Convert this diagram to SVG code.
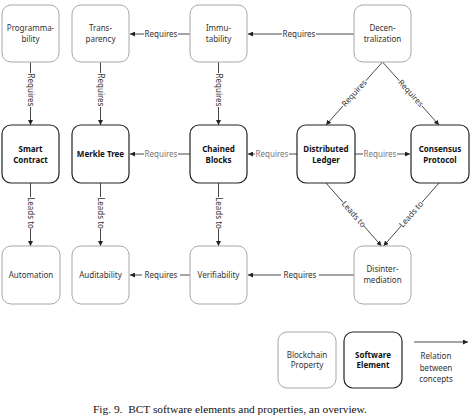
<svg xmlns="http://www.w3.org/2000/svg" width="474" height="420" viewBox="0 0 474 420">
<defs>
<marker id="ah" viewBox="0 0 6 6" refX="6" refY="3" markerWidth="5" markerHeight="5" orient="auto" markerUnits="userSpaceOnUse">
<path d="M0,0 L6,3 L0,6 z" fill="#222"/>
</marker>
<style>
.prop{fill:#fff;stroke:#a8a8a8;stroke-width:1}
.soft{fill:#fff;stroke:#222;stroke-width:1.2}
.nt{font-family:"Noto Sans","Liberation Sans",sans-serif;font-size:8px;fill:#333;text-anchor:middle}
.bt{font-family:"Noto Sans","Liberation Sans",sans-serif;font-size:8px;font-weight:bold;fill:#111;text-anchor:middle}
.ln{stroke:#333;stroke-width:0.9;fill:none;marker-end:url(#ah)}
.lb{font-family:"Noto Sans","Liberation Sans",sans-serif;font-size:8px;fill:#333;text-anchor:middle}
.lg{font-family:"Noto Sans","Liberation Sans",sans-serif;font-size:8px;fill:#777;text-anchor:middle}
.bg{fill:#fff}
.cap{font-family:"Liberation Serif",serif;font-size:11.4px;fill:#111}
</style>
</defs>
<rect width="474" height="420" fill="#fff"/>

<g id="connectors">
<line class="ln" x1="190" y1="34" x2="130" y2="34"/>
<rect class="bg" x="144" y="29" width="34" height="10"/>
<text class="lb" x="161" y="37">Requires</text>
<line class="ln" x1="354" y1="34" x2="248" y2="34"/>
<rect class="bg" x="282" y="29" width="34" height="10"/>
<text class="lb" x="299" y="37">Requires</text>

<line class="ln" x1="30.5" y1="62" x2="30.5" y2="125"/>
<g transform="translate(30.5,90) rotate(90)"><rect class="bg" x="-17" y="-5" width="34" height="10"/><text class="lb" x="0" y="3">Requires</text></g>
<line class="ln" x1="100.5" y1="62" x2="100.5" y2="125"/>
<g transform="translate(100.5,90) rotate(90)"><rect class="bg" x="-17" y="-5" width="34" height="10"/><text class="lb" x="0" y="3">Requires</text></g>
<line class="ln" x1="218.5" y1="62" x2="218.5" y2="125"/>
<g transform="translate(218.5,90) rotate(90)"><rect class="bg" x="-17" y="-5" width="34" height="10"/><text class="lb" x="0" y="3">Requires</text></g>

<line class="ln" x1="382.5" y1="62" x2="326" y2="125"/>
<g transform="translate(354,93) rotate(-48)"><rect class="bg" x="-17" y="-5" width="34" height="10"/><text class="lb" x="0" y="3">Requires</text></g>
<line class="ln" x1="382.5" y1="62" x2="439" y2="125"/>
<g transform="translate(411,93) rotate(48)"><rect class="bg" x="-17" y="-5" width="34" height="10"/><text class="lb" x="0" y="3">Requires</text></g>

<line class="ln" x1="190" y1="154" x2="130" y2="154"/>
<rect class="bg" x="144" y="149" width="34" height="10"/>
<text class="lg" x="161" y="157">Requires</text>
<line class="ln" x1="297" y1="154" x2="248" y2="154"/>
<rect class="bg" x="255" y="149" width="34" height="10"/>
<text class="lg" x="272" y="157">Requires</text>
<line class="ln" x1="355" y1="154" x2="410" y2="154"/>
<rect class="bg" x="363" y="149" width="34" height="10"/>
<text class="lg" x="380" y="157">Requires</text>

<line class="ln" x1="30.5" y1="183" x2="30.5" y2="246"/>
<g transform="translate(30.5,213) rotate(90)"><rect class="bg" x="-16" y="-5" width="32" height="10"/><text class="lb" x="0" y="3">Leads to</text></g>
<line class="ln" x1="100.5" y1="183" x2="100.5" y2="246"/>
<g transform="translate(100.5,213) rotate(90)"><rect class="bg" x="-16" y="-5" width="32" height="10"/><text class="lb" x="0" y="3">Leads to</text></g>
<line class="ln" x1="218.5" y1="183" x2="218.5" y2="246"/>
<g transform="translate(218.5,213) rotate(90)"><rect class="bg" x="-16" y="-5" width="32" height="10"/><text class="lb" x="0" y="3">Leads to</text></g>

<line class="ln" x1="326" y1="183" x2="381.5" y2="246"/>
<g transform="translate(354,214) rotate(49)"><rect class="bg" x="-16" y="-5" width="32" height="10"/><text class="lb" x="0" y="3">Leads to</text></g>
<line class="ln" x1="439" y1="183" x2="383.5" y2="246"/>
<g transform="translate(411,214) rotate(-49)"><rect class="bg" x="-16" y="-5" width="32" height="10"/><text class="lb" x="0" y="3">Leads to</text></g>

<line class="ln" x1="190" y1="275" x2="130" y2="275"/>
<rect class="bg" x="142" y="270" width="38" height="10"/>
<text class="lb" x="161" y="278">Requires</text>
<line class="ln" x1="354" y1="275" x2="248" y2="275"/>
<rect class="bg" x="281" y="270" width="38" height="10"/>
<text class="lb" x="300" y="278">Requires</text>
</g>

<g id="programmability"><rect class="prop" x="2" y="5" width="57" height="57" rx="9"/><text class="nt" x="30.5" y="31">Programma-</text><text class="nt" x="30.5" y="42">bility</text></g>
<g id="transparency"><rect class="prop" x="72" y="5" width="57" height="57" rx="9"/><text class="nt" x="100.5" y="31">Trans-</text><text class="nt" x="100.5" y="42">parency</text></g>
<g id="immutability"><rect class="prop" x="190" y="5" width="57" height="57" rx="9"/><text class="nt" x="218.5" y="31">Immu-</text><text class="nt" x="218.5" y="42">tability</text></g>
<g id="decentralization"><rect class="prop" x="354" y="5" width="57" height="57" rx="9"/><text class="nt" x="382.5" y="31">Decen-</text><text class="nt" x="382.5" y="42">tralization</text></g>

<g id="smart-contract"><rect class="soft" x="2" y="125" width="57" height="58" rx="9"/><text class="bt" x="30.5" y="152">Smart</text><text class="bt" x="30.5" y="163">Contract</text></g>
<g id="merkle-tree"><rect class="soft" x="72" y="125" width="57" height="58" rx="9"/><text class="bt" x="100.5" y="157">Merkle Tree</text></g>
<g id="chained-blocks"><rect class="soft" x="190" y="125" width="57" height="58" rx="9"/><text class="bt" x="218.5" y="152">Chained</text><text class="bt" x="218.5" y="163">Blocks</text></g>
<g id="distributed-ledger"><rect class="soft" x="297" y="125" width="58" height="58" rx="9"/><text class="bt" x="326" y="152">Distributed</text><text class="bt" x="326" y="163">Ledger</text></g>
<g id="consensus-protocol"><rect class="soft" x="411" y="125" width="58" height="58" rx="9"/><text class="bt" x="440" y="152">Consensus</text><text class="bt" x="440" y="163">Protocol</text></g>

<g id="automation"><rect class="prop" x="2" y="246" width="58" height="58" rx="9"/><text class="nt" x="31" y="278">Automation</text></g>
<g id="auditability"><rect class="prop" x="72" y="246" width="57" height="58" rx="9"/><text class="nt" x="100.5" y="278">Auditability</text></g>
<g id="verifiability"><rect class="prop" x="190" y="246" width="57" height="58" rx="9"/><text class="nt" x="218.5" y="278">Verifiability</text></g>
<g id="disintermediation"><rect class="prop" x="354" y="246" width="57" height="58" rx="9"/><text class="nt" x="382.5" y="272">Disinter-</text><text class="nt" x="382.5" y="283">mediation</text></g>

<g id="legend">
<rect class="prop" x="278" y="332" width="58" height="56" rx="9"/><text class="nt" x="307" y="358">Blockchain</text><text class="nt" x="307" y="368">Property</text>
<rect class="soft" x="344" y="332" width="58" height="56" rx="9"/><text class="bt" x="373" y="358">Software</text><text class="bt" x="373" y="368">Element</text>
<line class="ln" x1="414" y1="342" x2="468" y2="342"/>
<text class="nt" x="436" y="359">Relation</text><text class="nt" x="436" y="371">between</text><text class="nt" x="436" y="382">concepts</text>
</g>

<text class="cap" x="93" y="413" xml:space="preserve">Fig. 9.  BCT software elements and properties, an overview.</text>
</svg>
